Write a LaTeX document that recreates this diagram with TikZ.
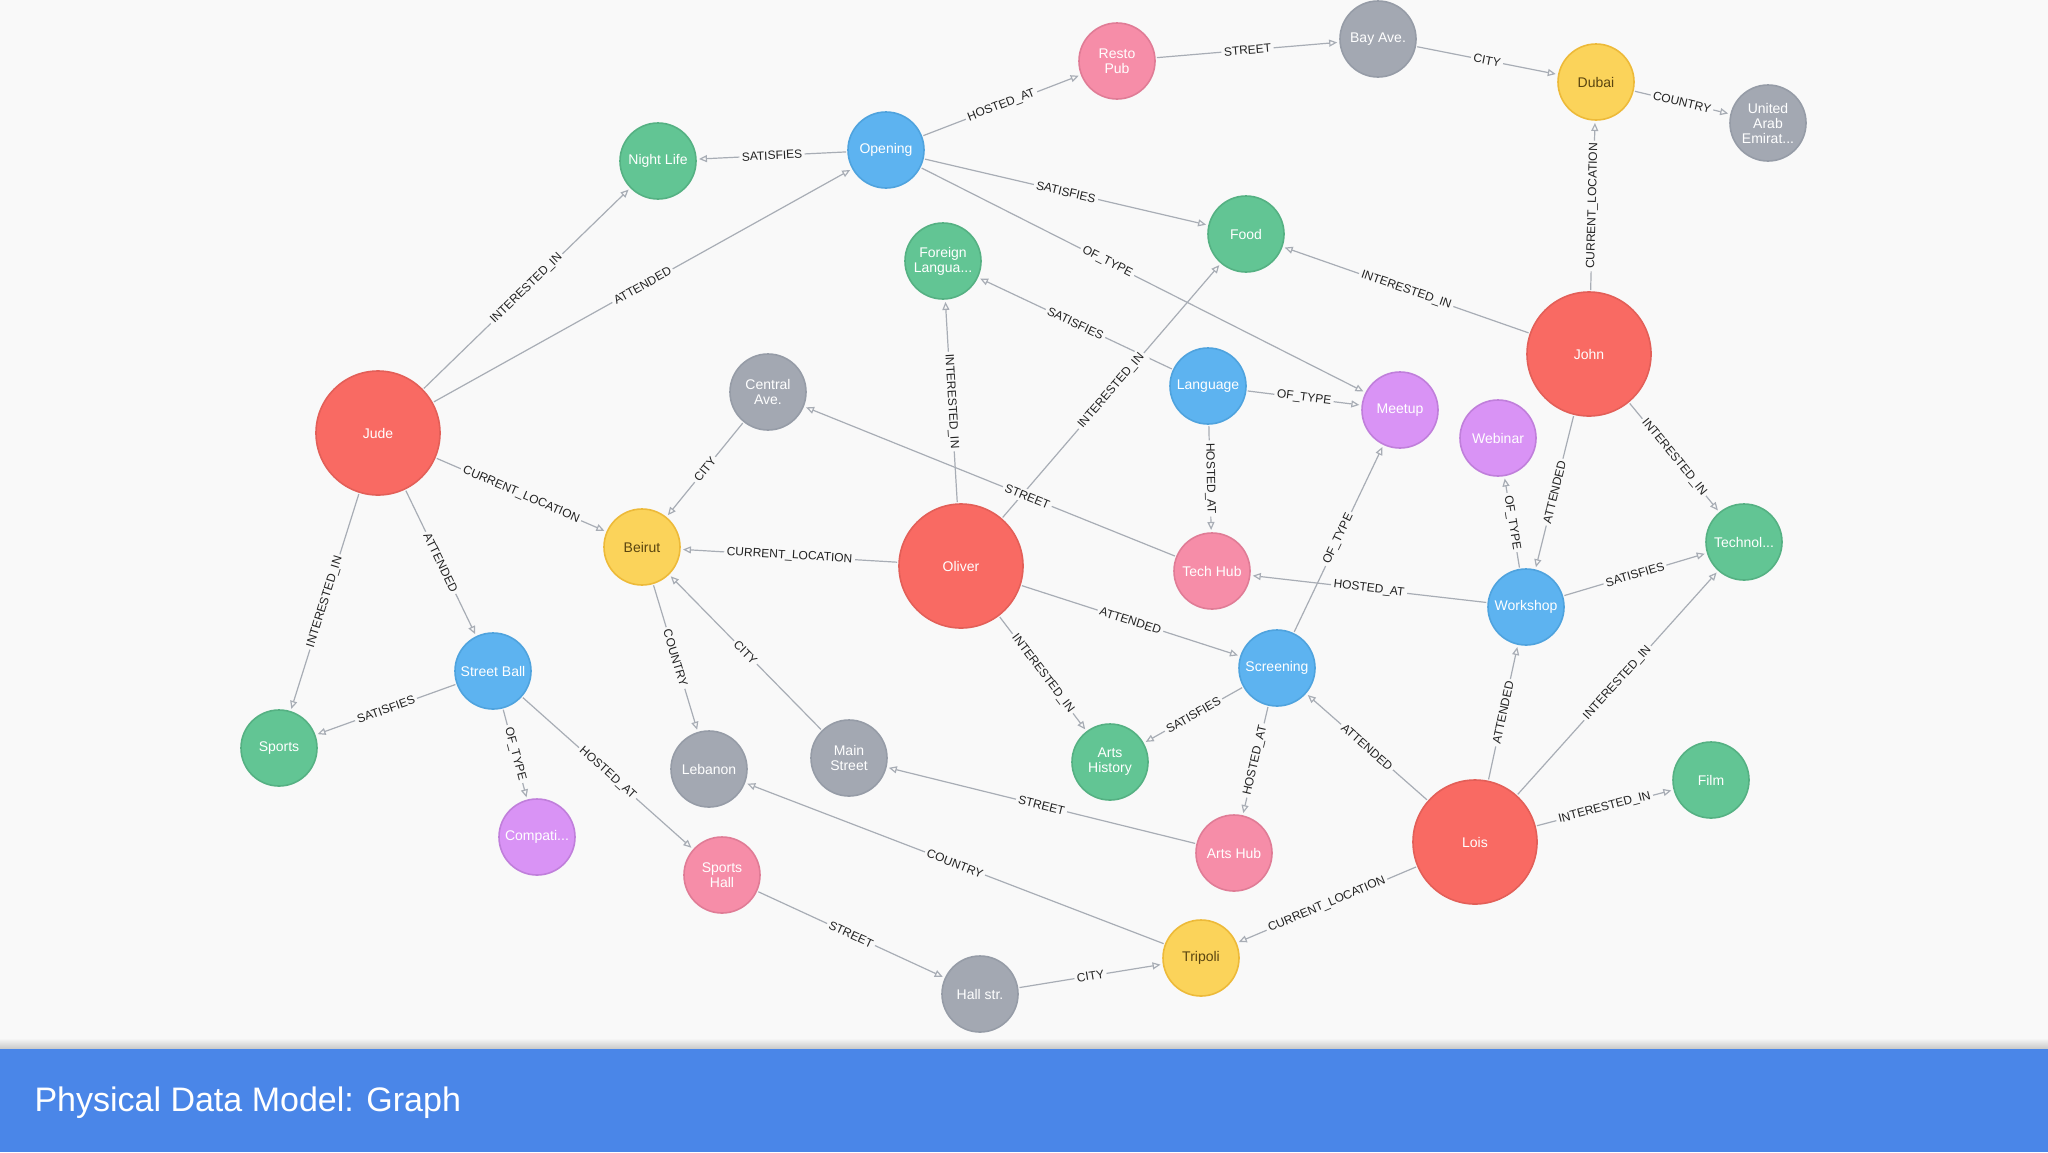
\documentclass[tikz,border=0pt]{standalone}
\usepackage{fontspec}
\setmainfont{Liberation Sans}
\usetikzlibrary{arrows.meta}
\definecolor{bg}{HTML}{F9F9F9}
\definecolor{cRed}{HTML}{F96A63}\definecolor{cRedB}{HTML}{E35F58}
\definecolor{cBlue}{HTML}{5DB3F0}\definecolor{cBlueB}{HTML}{4FA3DE}
\definecolor{cGreen}{HTML}{62C594}\definecolor{cGreenB}{HTML}{55B183}
\definecolor{cPurple}{HTML}{D993F5}\definecolor{cPurpleB}{HTML}{C07FDB}
\definecolor{cPink}{HTML}{F68DA8}\definecolor{cPinkB}{HTML}{E07C96}
\definecolor{cYellow}{HTML}{FBD35A}\definecolor{cYellowB}{HTML}{EDBA39}
\definecolor{cYellowT}{HTML}{5A4510}
\definecolor{cGrey}{HTML}{A3A8B2}\definecolor{cGreyB}{HTML}{969CA7}
\definecolor{cEdge}{HTML}{A8ADB5}
\definecolor{cLabel}{HTML}{222222}
\definecolor{barblue}{HTML}{4A86E8}
\tikzset{
  nd/.style={circle, minimum size=76pt, inner sep=0pt, outer sep=0pt, line width=1.6pt,
    font=\fontsize{14}{15}\selectfont, text=white, align=center},
  person/.style={nd, minimum size=124pt, fill=cRed, draw=cRedB},
  event/.style={nd, fill=cBlue, draw=cBlueB},
  interest/.style={nd, fill=cGreen, draw=cGreenB},
  evtype/.style={nd, fill=cPurple, draw=cPurpleB},
  venue/.style={nd, fill=cPink, draw=cPinkB},
  citynode/.style={nd, fill=cYellow, draw=cYellowB, text=cYellowT},
  placenode/.style={nd, fill=cGrey, draw=cGreyB},
  rel/.style={draw=cEdge, line width=1.2pt, -{Triangle[open,length=8pt,width=7pt]},
    shorten >=3pt, shorten <=2pt},
  el/.style={sloped, fill=bg, inner sep=2.5pt, text=cLabel, font=\fontsize{12}{12}\selectfont}
}
\begin{document}
\begin{tikzpicture}[x=1pt,y=-1pt]
\fill[bg] (0,0) rectangle (2048,1152);
\useasboundingbox (0,0) rectangle (2048,1152);
% title bar
\shade[top color=bg, bottom color=black!22] (0,1038) rectangle (2048,1049);
\fill[barblue] (0,1049) rectangle (2048,1152);
\node[anchor=west, text=white, font=\fontsize{34}{36}\selectfont] (title) at (31,1103) {Physical Data Model: Graph};

% nodes
\node[venue] (resto) at (1117,61) {Resto\\Pub};
\node[placenode] (bay) at (1378,39) {Bay Ave.};
\node[citynode] (dubai) at (1596,82) {Dubai};
\node[placenode] (uae) at (1768,123) {United\\Arab\\Emirat...};
\node[interest] (night) at (658,161) {Night Life};
\node[event] (opening) at (886,150) {Opening};
\node[interest] (food) at (1246,234) {Food};
\node[interest] (foreign) at (943,261) {Foreign\\Langua...};
\node[person] (john) at (1589,354) {John};
\node[person] (jude) at (378,433) {Jude};
\node[placenode] (central) at (768,392) {Central\\Ave.};
\node[event] (language) at (1208,386) {Language};
\node[evtype] (meetup) at (1400,410) {Meetup};
\node[evtype] (webinar) at (1498,438) {Webinar};
\node[citynode] (beirut) at (642,547) {Beirut};
\node[person] (oliver) at (961,566) {Oliver};
\node[venue] (techhub) at (1212,571) {Tech Hub};
\node[interest] (technol) at (1744,542) {Technol...};
\node[event] (workshop) at (1526,607) {Workshop};
\node[event] (screening) at (1277,668) {Screening};
\node[event] (streetball) at (493,671) {Street Ball};
\node[interest] (sports) at (279,748) {Sports};
\node[placenode] (lebanon) at (709,769) {Lebanon};
\node[placenode] (mainst) at (849,758) {Main\\Street};
\node[interest] (arts) at (1110,762) {Arts\\History};
\node[person] (lois) at (1475,842) {Lois};
\node[interest] (film) at (1711,780) {Film};
\node[evtype] (compat) at (537,837) {Compati...};
\node[venue] (sportshall) at (722,875) {Sports\\Hall};
\node[venue] (artshub) at (1234,853) {Arts Hub};
\node[citynode] (tripoli) at (1201,958) {Tripoli};
\node[placenode] (hallstr) at (980,994) {Hall str.};

% relationships
\draw[rel] (opening) -- node[el]{SATISFIES} (night);
\draw[rel] (opening) -- node[el]{HOSTED\_AT} (resto);
\draw[rel] (resto) -- node[el]{STREET} (bay);
\draw[rel] (bay) -- node[el]{CITY} (dubai);
\draw[rel] (dubai) -- node[el]{COUNTRY} (uae);
\draw[rel] (opening) -- node[el]{SATISFIES} (food);
\draw[rel] (opening) -- node[el, pos=0.42]{OF\_TYPE} (meetup);
\draw[rel] (jude) -- node[el]{INTERESTED\_IN} (night);
\draw[rel] (jude) -- node[el]{ATTENDED} (opening);
\draw[rel] (john) -- node[el]{CURRENT\_LOCATION} (dubai);
\draw[rel] (john) -- node[el]{INTERESTED\_IN} (food);
\draw[rel] (john) -- node[el]{INTERESTED\_IN} (technol);
\draw[rel] (john) -- node[el]{ATTENDED} (workshop);
\draw[rel] (language) -- node[el]{SATISFIES} (foreign);
\draw[rel] (language) -- node[el]{OF\_TYPE} (meetup);
\draw[rel] (language) -- node[el]{HOSTED\_AT} (techhub);
\draw[rel] (oliver) -- node[el]{INTERESTED\_IN} (foreign);
\draw[rel] (oliver) -- node[el]{INTERESTED\_IN} (food);
\draw[rel] (techhub) -- node[el, pos=0.4]{STREET} (central);
\draw[rel] (central) -- node[el]{CITY} (beirut);
\draw[rel] (jude) -- node[el]{CURRENT\_LOCATION} (beirut);
\draw[rel] (oliver) -- node[el]{CURRENT\_LOCATION} (beirut);
\draw[rel] (oliver) -- node[el]{ATTENDED} (screening);
\draw[rel] (oliver) -- node[el]{INTERESTED\_IN} (arts);
\draw[rel] (workshop) -- node[el]{HOSTED\_AT} (techhub);
\draw[rel] (workshop) -- node[el]{OF\_TYPE} (webinar);
\draw[rel] (workshop) -- node[el]{SATISFIES} (technol);
\draw[rel] (screening) -- node[el]{OF\_TYPE} (meetup);
\draw[rel] (screening) -- node[el]{SATISFIES} (arts);
\draw[rel] (screening) -- node[el]{HOSTED\_AT} (artshub);
\draw[rel] (lois) -- node[el]{ATTENDED} (screening);
\draw[rel] (lois) -- node[el]{ATTENDED} (workshop);
\draw[rel] (lois) -- node[el]{INTERESTED\_IN} (technol);
\draw[rel] (lois) -- node[el]{INTERESTED\_IN} (film);
\draw[rel] (lois) -- node[el]{CURRENT\_LOCATION} (tripoli);
\draw[rel] (jude) -- node[el]{INTERESTED\_IN} (sports);
\draw[rel] (jude) -- node[el]{ATTENDED} (streetball);
\draw[rel] (streetball) -- node[el]{SATISFIES} (sports);
\draw[rel] (streetball) -- node[el]{OF\_TYPE} (compat);
\draw[rel] (streetball) -- node[el]{HOSTED\_AT} (sportshall);
\draw[rel] (beirut) -- node[el]{COUNTRY} (lebanon);
\draw[rel] (mainst) -- node[el]{CITY} (beirut);
\draw[rel] (artshub) -- node[el]{STREET} (mainst);
\draw[rel] (tripoli) -- node[el]{COUNTRY} (lebanon);
\draw[rel] (sportshall) -- node[el]{STREET} (hallstr);
\draw[rel] (hallstr) -- node[el]{CITY} (tripoli);
\end{tikzpicture}
\end{document}
